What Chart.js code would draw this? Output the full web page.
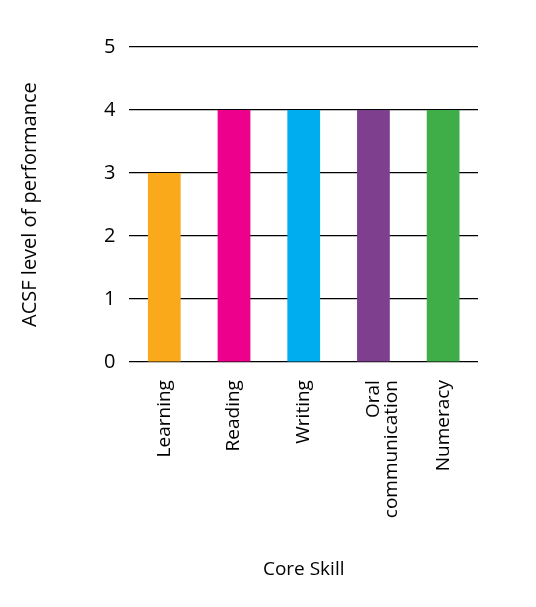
<!DOCTYPE html>
<html>
<head>
<meta charset="utf-8">
<script src="https://cdn.jsdelivr.net/npm/chart.js@4"></script>
<style>
  html, body { margin: 0; padding: 0; background: #fff; }
  #wrap { width: 536px; height: 607px; }
</style>
</head>
<body>
<div id="wrap"><canvas id="chart"></canvas></div>
<script>
// core skills and their ACSF levels
var skills = ['Learning', 'Reading', 'Writing', ['Oral', 'communication'], 'Numeracy'];
var levels = [3, 4, 4, 4, 4];
var barColours = ['#F9A91A', '#EC008C', '#00AEEF', '#7E3F8F', '#3FAE49'];
var yTicks = [0, 1, 2, 3, 4, 5];

var font = "'Open Sans', 'Noto Sans', sans-serif";

new Chart(document.getElementById('chart'), {
	type: 'bar',
	data: {
		labels: skills,
		datasets: [{
			data: levels,
			backgroundColor: barColours,
			barPercentage: 0.47,
			categoryPercentage: 1,
		}],
	},
	options: {
		responsive: true,
		maintainAspectRatio: false,
		animation: false,
		layout: {
			padding: { left: 14, right: 58, top: 47, bottom: 22 },
		},
		plugins: {
			legend: { display: false },
			tooltip: { enabled: false },
		},
		scales: {
			x: {
				grid: { display: false, drawTicks: false },
				border: { display: false },
				ticks: {
					color: '#000',
					font: { family: font, size: 19, lineHeight: 0.95 },
					minRotation: 90,
					maxRotation: 90,
					padding: 18,
				},
				title: {
					display: true,
					text: 'Core Skill',
					color: '#000',
					font: { family: font, size: 19 },
					padding: { top: 22 },
				},
			},
			y: {
				min: 0,
				max: 5,
				afterBuildTicks: function(axis) {
					axis.ticks = yTicks.map(function(v) { return { value: v }; });
				},
				grid: { color: '#000', lineWidth: 1.2, drawTicks: false },
				border: { display: false },
				ticks: {
					color: '#000',
					font: { family: font, size: 20 },
					padding: 14,
				},
				title: {
					display: true,
					text: 'ACSF level of performance',
					color: '#000',
					font: { family: font, size: 20 },
					padding: { bottom: 48 },
				},
			},
		},
	},
});
</script>
</body>
</html>
